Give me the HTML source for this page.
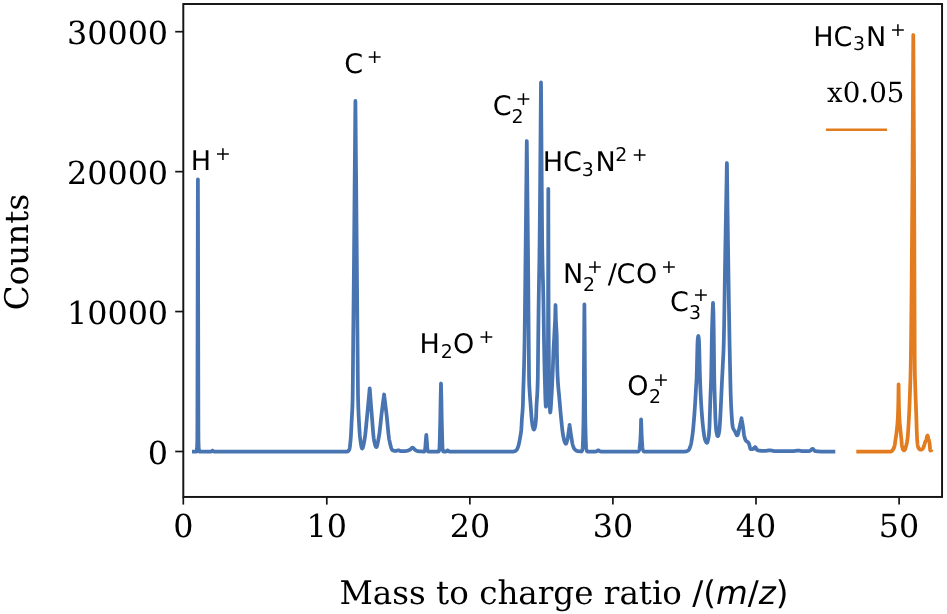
<!DOCTYPE html>
<html lang="en">
<head>
<meta charset="utf-8">
<title>Mass spectrum</title>
<style>
html,body{margin:0;padding:0;background:#fff;}
body{width:947px;height:614px;overflow:hidden;}
svg{display:block;}
text{text-rendering:geometricPrecision;}
</style>
</head>
<body>
<svg width="947" height="614" viewBox="0 0 947 614">
<rect width="947" height="614" fill="#fff"/>
<polyline fill="none" stroke="#4874b1" stroke-width="3.75" stroke-linejoin="round" stroke-linecap="butt" points="192.00,451.50 196.70,451.50 196.80,451.21 197.00,448.77 197.20,443.65 197.30,440.00 197.40,415.70 197.60,310.63 197.63,296.62 197.80,205.52 197.90,179.30 198.00,209.87 198.15,296.62 198.20,324.78 198.40,431.47 198.45,440.00 198.60,444.97 198.80,449.28 199.00,451.27 199.10,451.50 211.30,451.50 211.40,451.48 211.60,451.36 211.80,451.16 212.00,450.94 212.20,450.74 212.40,450.62 212.50,450.60 212.60,450.62 212.80,450.74 213.00,450.94 213.20,451.16 213.40,451.36 213.60,451.48 213.70,451.50 347.50,451.50 347.60,451.49 347.80,451.44 348.00,451.32 348.20,451.16 348.40,450.95 348.60,450.70 348.80,450.40 349.00,450.07 349.20,449.70 349.30,449.50 349.40,449.24 349.60,448.42 349.80,447.23 350.00,445.74 350.20,444.00 350.40,442.06 350.60,440.00 350.60,440.00 350.80,437.44 351.00,434.14 351.20,430.32 351.40,426.21 351.60,422.04 351.70,420.00 351.80,418.10 352.00,414.67 352.20,411.05 352.40,406.42 352.60,400.00 352.60,400.00 352.80,385.51 353.00,362.76 353.20,340.00 353.20,340.00 353.40,320.32 353.60,300.77 353.80,280.58 353.90,270.00 354.00,258.89 354.20,235.40 354.40,211.55 354.50,200.00 354.60,188.77 354.80,166.73 355.00,144.90 355.10,133.93 355.20,120.48 355.40,100.90 355.40,100.90 355.60,120.48 355.70,133.93 355.80,144.90 356.00,166.73 356.20,188.77 356.30,200.00 356.40,211.43 356.60,234.75 356.80,258.29 356.90,270.00 357.00,281.79 357.20,305.67 357.40,328.96 357.50,340.00 357.60,351.35 357.80,374.99 358.00,394.19 358.10,400.00 358.20,403.80 358.40,409.79 358.60,414.30 358.80,418.11 358.90,420.00 359.00,421.93 359.20,425.68 359.40,429.20 359.60,432.34 359.80,434.99 360.00,437.00 360.00,437.00 360.20,438.63 360.40,440.22 360.60,441.72 360.80,443.13 361.00,444.43 361.20,445.58 361.40,446.57 361.60,447.38 361.80,447.99 362.00,448.37 362.20,448.50 362.20,448.50 362.40,448.40 362.60,448.12 362.80,447.67 363.00,447.08 363.20,446.36 363.40,445.54 363.60,444.63 363.80,443.65 364.00,442.63 364.20,441.58 364.40,440.52 364.50,440.00 364.60,439.45 364.80,438.20 365.00,436.76 365.20,435.16 365.40,433.41 365.60,431.55 365.80,429.59 366.00,427.55 366.20,425.46 366.40,423.34 366.60,421.22 366.80,419.10 367.00,417.02 367.20,415.00 367.20,415.00 367.40,412.99 367.60,410.94 367.80,408.84 368.00,406.72 368.20,404.57 368.40,402.41 368.60,400.24 368.80,398.06 369.00,395.89 369.20,393.73 369.40,391.59 369.40,391.59 369.60,388.99 369.70,388.40 369.80,389.10 370.00,392.20 370.00,392.20 370.20,394.75 370.40,397.31 370.60,399.89 370.80,402.46 371.00,405.03 371.20,407.58 371.40,410.09 371.60,412.57 371.80,415.00 371.80,415.00 372.00,417.49 372.20,420.10 372.40,422.79 372.60,425.50 372.80,428.16 373.00,430.72 373.20,433.13 373.40,435.32 373.60,437.23 373.80,438.81 374.00,440.00 374.00,440.00 374.20,440.96 374.40,441.90 374.60,442.80 374.80,443.64 375.00,444.42 375.20,445.12 375.40,445.73 375.60,446.25 375.80,446.65 376.00,446.94 376.20,447.08 376.30,447.10 376.40,447.08 376.60,446.88 376.80,446.52 377.00,445.99 377.20,445.33 377.40,444.55 377.60,443.66 377.80,442.68 378.00,441.64 378.20,440.54 378.40,439.41 378.60,438.27 378.80,437.12 379.00,436.00 379.00,436.00 379.20,434.80 379.40,433.43 379.60,431.92 379.80,430.29 380.00,428.56 380.20,426.74 380.40,424.87 380.60,422.96 380.80,421.04 381.00,419.13 381.20,417.25 381.40,415.42 381.60,413.66 381.80,412.00 381.80,412.00 382.00,410.41 382.20,408.85 382.40,407.31 382.60,405.79 382.80,404.28 383.00,402.79 383.20,401.29 383.40,399.80 383.60,398.30 383.80,396.78 383.80,396.78 384.00,394.92 384.10,394.50 384.20,394.96 384.40,396.96 384.40,396.96 384.60,398.59 384.80,400.21 385.00,401.82 385.20,403.43 385.40,405.04 385.60,406.66 385.80,408.28 386.00,409.93 386.20,411.59 386.40,413.28 386.60,415.00 386.60,415.00 386.80,416.81 387.00,418.76 387.20,420.81 387.40,422.92 387.60,425.07 387.80,427.22 388.00,429.33 388.20,431.38 388.40,433.33 388.60,435.15 388.80,436.80 389.00,438.26 389.20,439.48 389.30,440.00 389.40,440.48 389.60,441.42 389.80,442.35 390.00,443.25 390.20,444.11 390.40,444.94 390.60,445.73 390.80,446.48 391.00,447.17 391.20,447.80 391.40,448.38 391.60,448.88 391.80,449.32 392.00,449.67 392.20,449.95 392.40,450.14 392.50,450.20 392.60,450.25 392.80,450.34 393.00,450.43 393.20,450.51 393.40,450.59 393.60,450.66 393.80,450.72 394.00,450.78 394.20,450.84 394.40,450.88 394.60,450.92 394.80,450.95 395.00,450.97 395.20,450.99 395.40,451.00 395.50,451.00 395.60,451.00 395.80,450.98 396.00,450.94 396.20,450.90 396.40,450.84 396.60,450.77 396.80,450.70 397.00,450.63 397.20,450.56 397.40,450.49 397.60,450.43 397.80,450.38 398.00,450.34 398.20,450.31 398.40,450.30 398.40,450.30 398.60,450.32 398.80,450.36 399.00,450.42 399.20,450.50 399.40,450.60 399.60,450.70 399.80,450.80 400.00,450.90 400.20,451.00 400.40,451.08 400.60,451.14 400.80,451.18 401.00,451.20 401.00,451.20 401.20,451.20 401.40,451.20 401.60,451.20 401.80,451.19 402.00,451.19 402.20,451.19 402.40,451.18 402.60,451.18 402.80,451.17 403.00,451.16 403.20,451.16 403.40,451.15 403.60,451.14 403.80,451.13 404.00,451.12 404.20,451.11 404.40,451.10 404.60,451.09 404.80,451.08 405.00,451.07 405.20,451.06 405.40,451.04 405.60,451.03 405.80,451.01 406.00,451.00 406.00,451.00 406.20,450.98 406.40,450.96 406.60,450.93 406.80,450.89 407.00,450.85 407.20,450.80 407.40,450.74 407.60,450.68 407.80,450.62 408.00,450.55 408.20,450.48 408.40,450.40 408.60,450.33 408.80,450.24 409.00,450.16 409.20,450.07 409.40,449.98 409.60,449.89 409.80,449.79 410.00,449.70 410.00,449.70 410.20,449.58 410.40,449.43 410.60,449.24 410.80,449.04 411.00,448.82 411.20,448.60 411.40,448.39 411.60,448.19 411.80,448.02 412.00,447.87 412.20,447.76 412.40,447.71 412.50,447.70 412.60,447.71 412.80,447.76 413.00,447.87 413.20,448.02 413.40,448.20 413.60,448.40 413.80,448.62 414.00,448.84 414.20,449.07 414.40,449.29 414.60,449.49 414.80,449.66 415.00,449.80 415.00,449.80 415.20,449.92 415.40,450.04 415.60,450.17 415.80,450.29 416.00,450.41 416.20,450.52 416.40,450.63 416.60,450.74 416.80,450.83 417.00,450.92 417.20,451.00 417.40,451.07 417.60,451.13 417.80,451.17 418.00,451.20 418.00,451.20 418.20,451.22 418.40,451.24 418.60,451.26 418.80,451.28 419.00,451.30 419.20,451.32 419.40,451.34 419.60,451.36 419.80,451.37 420.00,451.39 420.20,451.40 420.40,451.41 420.60,451.43 420.80,451.44 421.00,451.45 421.20,451.46 421.40,451.47 421.60,451.47 421.80,451.48 422.00,451.49 422.20,451.49 422.40,451.50 422.60,451.50 422.80,451.50 423.00,451.50 424.40,451.50 424.60,451.30 424.80,450.75 425.00,449.96 425.10,449.50 425.20,448.78 425.40,446.30 425.60,443.33 425.70,442.00 425.80,440.80 426.00,438.45 426.03,438.09 426.20,435.61 426.30,434.90 426.40,435.61 426.57,438.09 426.60,438.45 426.80,440.80 426.90,442.00 427.00,443.33 427.20,446.30 427.40,448.78 427.50,449.50 427.60,449.96 427.80,450.75 428.00,451.30 428.20,451.50 438.60,451.50 438.80,451.33 439.00,450.84 439.20,450.06 439.40,449.00 439.40,449.00 439.60,445.19 439.80,437.94 440.00,430.00 440.00,430.00 440.20,422.02 440.35,415.00 440.40,412.21 440.60,400.00 440.60,400.00 440.80,391.74 440.82,390.93 441.00,383.50 441.00,383.50 441.18,390.93 441.20,391.74 441.40,400.00 441.40,400.00 441.60,412.21 441.65,415.00 441.80,422.02 442.00,430.00 442.00,430.00 442.20,437.94 442.40,445.19 442.60,449.00 442.60,449.00 442.80,450.06 443.00,450.84 443.20,451.33 443.40,451.50 446.00,451.50 446.20,451.45 446.40,451.33 446.60,451.15 446.80,450.95 447.00,450.75 447.20,450.57 447.40,450.45 447.60,450.40 447.60,450.40 447.80,450.45 448.00,450.57 448.20,450.75 448.40,450.95 448.60,451.15 448.80,451.33 449.00,451.45 449.20,451.50 513.50,451.50 513.60,451.50 513.80,451.48 514.00,451.45 514.20,451.40 514.40,451.34 514.60,451.27 514.80,451.19 515.00,451.10 515.20,451.00 515.40,450.90 515.60,450.80 515.60,450.80 515.80,450.68 516.00,450.52 516.20,450.33 516.40,450.11 516.60,449.86 516.80,449.59 517.00,449.30 517.00,449.30 517.20,448.96 517.40,448.55 517.60,448.07 517.80,447.55 518.00,447.00 518.00,447.00 518.20,446.40 518.40,445.75 518.60,445.03 518.80,444.25 519.00,443.43 519.10,443.00 519.20,442.55 519.40,441.57 519.60,440.50 519.80,439.37 520.00,438.20 520.00,438.20 520.20,437.07 520.40,435.98 520.60,434.85 520.80,433.61 521.00,432.18 521.20,430.48 521.30,429.50 521.40,428.23 521.60,424.64 521.80,420.71 521.90,419.00 522.00,417.56 522.20,415.15 522.40,412.93 522.60,410.40 522.80,407.03 522.85,406.00 523.00,401.06 523.20,393.00 523.20,393.00 523.40,386.95 523.60,381.20 523.70,378.00 523.80,374.59 524.00,367.50 524.20,359.51 524.40,350.00 524.40,350.00 524.60,337.73 524.80,322.49 525.00,305.20 525.20,286.75 525.40,268.05 525.60,250.00 525.60,250.00 525.80,232.28 526.00,214.13 526.20,195.75 526.40,177.37 526.50,168.25 526.60,157.15 526.80,141.00 526.80,141.00 527.00,157.15 527.10,168.25 527.20,177.19 527.40,194.52 527.60,211.85 527.80,230.05 528.00,250.00 528.00,250.00 528.20,273.40 528.40,299.63 528.60,326.04 528.80,350.00 528.80,350.00 529.00,373.04 529.10,380.00 529.20,383.21 529.40,387.68 529.60,390.75 529.75,393.00 529.80,393.81 530.00,396.81 530.20,399.54 530.40,402.12 530.60,404.69 530.70,406.00 530.80,407.36 531.00,410.17 531.20,412.98 531.40,415.63 531.60,417.99 531.70,419.00 531.80,419.95 532.00,421.77 532.20,423.45 532.40,424.91 532.60,426.06 532.70,426.50 532.80,426.89 533.00,427.64 533.20,428.33 533.40,428.91 533.60,429.34 533.80,429.57 533.90,429.60 534.00,429.57 534.20,429.34 534.40,428.93 534.60,428.35 534.80,427.67 535.00,426.90 535.10,426.50 535.20,426.05 535.40,424.90 535.60,423.37 535.80,421.41 536.00,419.00 536.00,419.00 536.20,414.45 536.40,408.44 536.50,406.00 536.60,404.12 536.80,401.02 537.00,398.21 537.20,394.99 537.30,393.00 537.40,390.82 537.60,385.66 537.80,378.00 537.80,378.00 538.00,360.14 538.10,350.00 538.20,341.14 538.40,323.75 538.60,307.47 538.70,300.00 538.80,293.21 539.00,281.28 539.20,269.98 539.40,257.39 539.50,250.00 539.60,241.60 539.80,222.06 540.00,199.76 540.20,175.80 540.40,151.30 540.60,127.35 540.70,115.92 540.80,102.26 541.00,82.40 541.00,82.40 541.20,105.32 541.30,121.08 541.40,134.52 541.60,163.61 541.80,193.19 542.00,220.32 542.20,242.06 542.30,250.00 542.40,256.31 542.60,266.60 542.80,274.85 543.00,282.32 543.20,290.28 543.40,300.00 543.40,300.00 543.60,312.72 543.80,326.98 544.00,340.00 544.00,340.00 544.20,351.34 544.40,361.96 544.60,371.15 544.70,375.00 544.80,378.61 545.00,385.95 545.20,392.97 545.40,399.09 545.60,403.75 545.80,406.35 545.90,406.70 546.00,406.53 546.20,405.30 546.40,403.22 546.60,400.66 546.80,398.00 546.80,398.00 547.00,395.44 547.20,392.36 547.40,387.95 547.50,385.00 547.60,380.27 547.80,362.56 547.90,350.00 548.00,330.53 548.10,300.00 548.20,244.56 548.21,238.84 548.30,188.80 548.40,232.73 548.41,238.84 548.55,300.00 548.60,313.18 548.80,350.00 548.80,350.00 549.00,376.77 549.10,385.00 549.20,389.93 549.40,396.98 549.60,402.00 549.60,402.00 549.80,406.80 550.00,410.81 550.20,412.50 550.20,412.50 550.40,411.84 550.60,410.08 550.80,407.50 551.00,404.43 551.20,401.16 551.40,398.00 551.40,398.00 551.60,394.80 551.80,391.25 552.00,387.38 552.20,383.24 552.40,378.88 552.60,374.33 552.70,372.00 552.80,369.50 553.00,363.82 553.20,357.87 553.40,352.36 553.50,350.00 553.60,347.94 553.80,344.30 554.00,340.84 554.10,339.00 554.20,337.04 554.40,332.97 554.60,329.00 554.60,329.00 554.80,325.68 555.00,322.37 555.15,319.00 555.20,317.37 555.34,311.30 555.40,308.47 555.50,305.00 555.60,308.47 555.66,311.30 555.80,317.37 555.85,319.00 556.00,322.30 556.20,325.51 556.40,329.00 556.40,329.00 556.60,332.73 556.80,339.00 556.80,339.00 556.90,350.00 557.00,355.85 557.20,364.94 557.40,371.35 557.60,376.00 557.60,376.00 557.80,379.78 558.00,383.01 558.20,385.79 558.40,388.24 558.60,390.44 558.80,392.51 559.00,394.54 559.20,396.63 559.40,398.90 559.40,398.90 559.60,401.28 559.80,403.65 560.00,405.99 560.20,408.30 560.40,410.57 560.60,412.78 560.80,414.92 561.00,417.00 561.10,418.00 561.20,419.00 561.40,421.01 561.60,423.01 561.80,424.98 562.00,426.89 562.20,428.71 562.40,430.42 562.60,431.98 562.80,433.37 562.90,434.00 563.00,434.59 563.20,435.74 563.40,436.84 563.60,437.86 563.80,438.80 564.00,439.65 564.20,440.40 564.40,441.03 564.50,441.30 564.60,441.56 564.80,442.07 565.00,442.55 565.20,442.99 565.40,443.36 565.60,443.63 565.80,443.78 565.90,443.80 566.00,443.77 566.20,443.55 566.40,443.15 566.60,442.59 566.80,441.90 567.00,441.11 567.20,440.25 567.40,439.35 567.60,438.45 567.70,438.00 567.80,437.53 568.00,436.42 568.20,435.14 568.40,433.72 568.60,432.22 568.80,430.68 569.00,429.15 569.20,427.67 569.30,426.97 569.40,426.13 569.60,424.90 569.60,424.90 569.80,426.17 569.90,427.04 570.00,427.75 570.20,429.22 570.40,430.71 570.60,432.19 570.80,433.65 571.00,435.05 571.20,436.38 571.30,437.00 571.40,437.61 571.60,438.84 571.80,440.06 572.00,441.23 572.20,442.33 572.40,443.35 572.60,444.25 572.80,445.00 572.80,445.00 573.00,445.65 573.20,446.27 573.40,446.83 573.60,447.34 573.80,447.80 574.00,448.21 574.20,448.55 574.30,448.70 574.40,448.84 574.60,449.10 574.80,449.35 575.00,449.57 575.20,449.78 575.40,449.98 575.60,450.15 575.80,450.30 576.00,450.44 576.20,450.55 576.30,450.60 576.40,450.65 576.60,450.73 576.80,450.82 577.00,450.89 577.20,450.96 577.40,451.02 577.60,451.08 577.80,451.13 578.00,451.17 578.20,451.20 578.20,451.20 578.40,451.23 578.60,451.26 578.80,451.29 579.00,451.31 579.20,451.34 579.40,451.36 579.60,451.39 579.80,451.41 580.00,451.43 580.20,451.44 580.40,451.46 580.60,451.47 580.80,451.48 581.00,451.49 581.20,451.50 581.40,451.50 581.50,451.50 581.60,451.47 581.80,451.21 582.00,450.72 582.20,450.01 582.40,449.10 582.60,448.00 582.60,448.00 582.80,445.55 583.00,440.75 583.20,433.83 583.40,425.03 583.50,420.00 583.60,412.45 583.80,387.16 584.00,356.78 584.10,342.87 584.20,327.15 584.40,304.30 584.40,304.30 584.60,327.15 584.70,342.87 584.80,356.78 585.00,387.16 585.20,412.45 585.30,420.00 585.40,425.03 585.60,433.83 585.80,440.75 586.00,445.55 586.20,448.00 586.20,448.00 586.40,449.10 586.60,450.01 586.80,450.72 587.00,451.21 587.20,451.47 587.30,451.50 596.00,451.50 596.20,451.47 596.40,451.40 596.60,451.30 596.80,451.17 597.00,451.02 597.20,450.86 597.40,450.71 597.60,450.57 597.80,450.45 598.00,450.36 598.20,450.31 598.30,450.30 598.40,450.31 598.60,450.36 598.80,450.46 599.00,450.59 599.20,450.74 599.40,450.90 599.60,451.06 599.80,451.21 600.00,451.34 600.20,451.44 600.40,451.49 600.50,451.50 638.30,451.50 638.40,451.47 638.60,451.27 638.80,450.90 639.00,450.41 639.20,449.82 639.30,449.50 639.40,449.10 639.60,447.93 639.80,446.35 640.00,444.49 640.05,444.00 640.20,442.35 640.40,439.56 640.60,436.00 640.60,436.00 640.80,430.63 640.85,429.00 640.99,423.66 641.00,423.13 641.10,419.30 641.20,421.70 641.26,423.66 641.40,427.61 641.45,429.00 641.60,433.40 641.70,436.00 641.80,438.17 642.00,441.95 642.15,444.00 642.20,444.53 642.40,446.44 642.60,447.99 642.80,449.11 642.90,449.50 643.00,449.82 643.20,450.41 643.40,450.90 643.60,451.27 643.80,451.47 643.90,451.50 685.30,451.50 685.40,451.50 685.60,451.49 685.80,451.46 686.00,451.43 686.20,451.38 686.40,451.33 686.60,451.27 686.80,451.19 687.00,451.11 687.20,451.02 687.40,450.92 687.60,450.82 687.80,450.71 688.00,450.59 688.20,450.46 688.30,450.40 688.40,450.33 688.60,450.13 688.80,449.88 689.00,449.56 689.20,449.19 689.40,448.78 689.60,448.32 689.80,447.82 690.00,447.28 690.20,446.71 690.40,446.12 690.60,445.50 690.60,445.50 690.80,444.81 691.00,443.98 691.20,443.05 691.40,442.00 691.60,440.86 691.80,439.63 692.00,438.32 692.20,436.94 692.40,435.49 692.60,434.00 692.60,434.00 692.80,432.37 693.00,430.53 693.20,428.52 693.40,426.35 693.60,424.06 693.80,421.68 694.00,419.24 694.10,418.00 694.20,416.74 694.40,414.09 694.60,411.30 694.80,408.36 695.00,405.31 695.20,402.15 695.40,398.90 695.40,398.90 695.60,395.38 695.80,391.64 696.00,388.00 696.00,388.00 696.20,384.89 696.40,381.89 696.60,378.00 696.60,378.00 696.80,371.59 697.00,363.17 697.20,355.00 697.20,355.00 697.40,346.81 697.60,341.00 697.60,341.00 697.80,338.72 698.00,337.04 698.20,336.12 698.30,336.00 698.40,336.12 698.60,337.04 698.80,338.72 699.00,341.00 699.00,341.00 699.20,346.81 699.40,355.00 699.40,355.00 699.60,362.88 699.80,371.00 700.00,378.00 700.00,378.00 700.20,383.61 700.40,388.56 700.60,392.97 700.70,395.00 700.80,396.95 701.00,400.66 701.20,404.11 701.40,407.31 701.60,410.27 701.80,413.00 701.80,413.00 702.00,415.56 702.20,418.02 702.40,420.37 702.60,422.59 702.80,424.67 703.00,426.61 703.20,428.39 703.40,430.00 703.40,430.00 703.60,431.51 703.80,432.99 704.00,434.41 704.20,435.73 704.40,436.93 704.60,437.97 704.80,438.84 705.00,439.50 705.00,439.50 705.20,440.04 705.40,440.56 705.60,441.05 705.80,441.49 706.00,441.89 706.20,442.23 706.40,442.50 706.60,442.69 706.80,442.79 706.90,442.80 707.00,442.78 707.20,442.59 707.40,442.22 707.60,441.71 707.80,441.06 708.00,440.29 708.20,439.43 708.40,438.49 708.50,438.00 708.60,437.43 708.80,435.86 709.00,433.74 709.20,431.11 709.40,428.00 709.40,428.00 709.60,423.18 709.80,416.59 710.00,410.00 710.00,410.00 710.20,403.87 710.40,397.83 710.50,395.00 710.60,392.46 710.80,387.97 711.00,383.07 711.10,380.00 711.20,376.01 711.40,365.10 711.60,352.24 711.80,339.77 712.00,330.00 712.00,330.00 712.20,323.06 712.40,317.22 712.60,312.00 712.60,312.00 712.80,307.45 712.82,307.00 713.00,302.90 713.00,302.90 713.18,307.00 713.20,307.43 713.40,312.00 713.40,312.00 713.60,323.00 713.70,330.00 713.80,337.76 714.00,356.32 714.20,373.71 714.30,380.00 714.40,384.71 714.60,392.34 714.80,398.79 714.90,402.00 715.00,405.36 715.20,412.04 715.40,417.79 715.50,420.00 715.60,421.88 715.80,425.32 716.00,428.18 716.20,430.29 716.30,431.00 716.40,431.58 716.60,432.67 716.80,433.66 717.00,434.51 717.20,435.22 717.40,435.75 717.60,436.08 717.80,436.20 717.80,436.20 718.00,436.08 718.20,435.75 718.40,435.21 718.60,434.51 718.80,433.65 719.00,432.67 719.20,431.58 719.30,431.00 719.40,430.26 719.60,428.00 719.80,425.09 720.00,422.00 720.00,422.00 720.20,418.72 720.40,415.05 720.60,411.12 720.80,407.05 720.90,405.00 721.00,402.91 721.20,398.50 721.40,393.92 721.60,389.37 721.80,385.00 721.80,385.00 722.00,380.88 722.20,376.91 722.40,372.99 722.60,369.05 722.80,365.00 722.80,365.00 723.00,361.13 723.20,357.38 723.40,353.19 723.60,348.00 723.60,348.00 723.80,340.83 724.00,331.42 724.20,320.26 724.40,307.86 724.60,294.71 724.80,281.32 725.00,268.17 725.20,255.77 725.30,250.00 725.40,244.43 725.60,233.42 725.80,222.53 726.00,211.71 726.20,200.93 726.40,190.15 726.60,179.31 726.60,179.31 726.80,166.02 726.90,163.00 727.00,167.03 727.20,184.75 727.20,184.75 727.40,199.42 727.60,214.23 727.80,228.90 728.00,243.14 728.10,250.00 728.20,256.77 728.40,270.35 728.60,283.85 728.80,297.11 729.00,310.00 729.20,322.36 729.40,334.05 729.60,344.92 729.70,350.00 729.80,354.95 730.00,364.73 730.20,374.13 730.40,382.87 730.60,390.66 730.80,397.25 730.90,400.00 731.00,402.46 731.20,406.86 731.40,410.68 731.60,414.02 731.80,417.00 731.80,417.00 732.00,419.88 732.20,422.61 732.40,424.83 732.60,426.20 732.60,426.20 732.80,426.98 733.00,427.65 733.20,428.22 733.40,428.72 733.60,429.15 733.80,429.53 734.00,429.87 734.20,430.19 734.40,430.49 734.60,430.81 734.80,431.14 735.00,431.50 735.00,431.50 735.20,431.90 735.40,432.34 735.60,432.79 735.80,433.24 736.00,433.68 736.20,434.10 736.40,434.49 736.60,434.82 736.80,435.09 737.00,435.28 737.20,435.39 737.30,435.40 737.40,435.37 737.60,435.14 737.80,434.71 738.00,434.11 738.20,433.37 738.40,432.54 738.60,431.63 738.80,430.70 739.00,429.75 739.20,428.85 739.40,428.00 739.40,428.00 739.60,427.17 739.80,426.30 740.00,425.39 740.20,424.45 740.40,423.50 740.60,422.54 740.80,421.58 741.00,420.62 741.20,419.69 741.20,419.69 741.40,418.56 741.50,418.30 741.60,418.62 741.80,420.04 741.80,420.04 742.00,421.18 742.20,422.30 742.40,423.42 742.60,424.57 742.80,425.75 743.00,427.00 743.00,427.00 743.20,428.42 743.40,430.01 743.60,431.65 743.80,433.23 744.00,434.62 744.20,435.70 744.20,435.70 744.40,436.56 744.60,437.35 744.80,438.07 745.00,438.71 745.20,439.27 745.40,439.73 745.60,440.10 745.60,440.10 745.80,440.39 746.00,440.65 746.20,440.87 746.40,441.06 746.60,441.23 746.80,441.38 747.00,441.52 747.20,441.66 747.40,441.80 747.60,441.94 747.80,442.10 748.00,442.28 748.20,442.49 748.40,442.73 748.60,443.00 748.60,443.00 748.80,443.39 749.00,443.94 749.20,444.60 749.40,445.34 749.60,446.12 749.80,446.89 750.00,447.61 750.20,448.24 750.40,448.75 750.60,449.08 750.80,449.20 750.80,449.20 751.00,449.20 751.20,449.19 751.40,449.18 751.60,449.17 751.80,449.15 752.00,449.14 752.20,449.11 752.40,449.09 752.60,449.06 752.80,449.03 753.00,449.00 753.00,449.00 753.20,448.93 753.40,448.79 753.60,448.60 753.80,448.38 754.00,448.13 754.20,447.88 754.40,447.64 754.60,447.43 754.80,447.26 755.00,447.14 755.20,447.10 755.20,447.10 755.40,447.18 755.60,447.40 755.80,447.71 756.00,448.10 756.20,448.52 756.40,448.93 756.60,449.30 756.80,449.61 757.00,449.80 757.00,449.80 757.20,449.92 757.40,450.04 757.60,450.15 757.80,450.24 758.00,450.33 758.20,450.41 758.40,450.47 758.60,450.53 758.80,450.57 759.00,450.60 759.00,450.60 759.20,450.62 759.40,450.64 759.60,450.67 759.80,450.69 760.00,450.71 760.20,450.72 760.40,450.74 760.60,450.76 760.80,450.77 761.00,450.79 761.20,450.80 761.40,450.82 761.60,450.83 761.80,450.84 762.00,450.85 762.20,450.86 762.40,450.87 762.60,450.88 762.80,450.88 763.00,450.89 763.20,450.89 763.40,450.90 763.60,450.90 763.80,450.90 764.00,450.90 764.00,450.90 764.20,450.90 764.40,450.89 764.60,450.89 764.80,450.87 765.00,450.86 765.20,450.84 765.40,450.83 765.60,450.81 765.80,450.79 766.00,450.76 766.20,450.74 766.40,450.71 766.60,450.69 766.80,450.66 767.00,450.64 767.20,450.61 767.40,450.59 767.60,450.56 767.80,450.54 768.00,450.51 768.20,450.49 768.40,450.47 768.60,450.46 768.80,450.44 769.00,450.43 769.20,450.41 769.40,450.41 769.60,450.40 769.80,450.40 769.80,450.40 770.00,450.40 770.20,450.41 770.40,450.42 770.60,450.44 770.80,450.47 771.00,450.49 771.20,450.52 771.40,450.55 771.60,450.59 771.80,450.62 772.00,450.66 772.20,450.70 772.40,450.74 772.60,450.78 772.80,450.82 773.00,450.86 773.20,450.90 773.40,450.93 773.60,450.97 773.80,451.00 774.00,451.02 774.20,451.05 774.40,451.07 774.60,451.08 774.80,451.09 775.00,451.10 775.00,451.10 775.20,451.10 775.40,451.11 775.60,451.11 775.80,451.11 776.00,451.11 776.20,451.12 776.40,451.12 776.60,451.12 776.80,451.12 777.00,451.12 777.20,451.13 777.40,451.13 777.60,451.13 777.80,451.13 778.00,451.14 778.20,451.14 778.40,451.14 778.60,451.14 778.80,451.14 779.00,451.15 779.20,451.15 779.40,451.15 779.60,451.15 779.80,451.15 780.00,451.15 780.20,451.16 780.40,451.16 780.60,451.16 780.80,451.16 781.00,451.16 781.20,451.16 781.40,451.17 781.60,451.17 781.80,451.17 782.00,451.17 782.20,451.17 782.40,451.17 782.60,451.17 782.80,451.17 783.00,451.18 783.20,451.18 783.40,451.18 783.60,451.18 783.80,451.18 784.00,451.18 784.20,451.18 784.40,451.18 784.60,451.18 784.80,451.19 785.00,451.19 785.20,451.19 785.40,451.19 785.60,451.19 785.80,451.19 786.00,451.19 786.20,451.19 786.40,451.19 786.60,451.19 786.80,451.19 787.00,451.19 787.20,451.19 787.40,451.19 787.60,451.19 787.80,451.20 788.00,451.20 788.20,451.20 788.40,451.20 788.60,451.20 788.80,451.20 789.00,451.20 789.20,451.20 789.40,451.20 789.60,451.20 789.80,451.20 790.00,451.20 790.20,451.20 790.40,451.20 790.60,451.20 790.80,451.20 791.00,451.20 791.20,451.20 791.40,451.20 791.60,451.20 791.80,451.20 792.00,451.20 792.00,451.20 792.20,451.20 792.40,451.19 792.60,451.19 792.80,451.17 793.00,451.16 793.20,451.14 793.40,451.13 793.60,451.11 793.80,451.08 794.00,451.06 794.20,451.04 794.40,451.01 794.60,450.98 794.80,450.96 795.00,450.93 795.20,450.90 795.40,450.87 795.60,450.84 795.80,450.82 796.00,450.79 796.20,450.76 796.40,450.74 796.60,450.72 796.80,450.69 797.00,450.67 797.20,450.66 797.40,450.64 797.60,450.63 797.80,450.61 798.00,450.61 798.20,450.60 798.40,450.60 798.40,450.60 798.60,450.60 798.80,450.61 799.00,450.63 799.20,450.65 799.40,450.67 799.60,450.70 799.80,450.73 800.00,450.77 800.20,450.80 800.40,450.84 800.60,450.88 800.80,450.92 801.00,450.96 801.20,451.00 801.40,451.03 801.60,451.07 801.80,451.10 802.00,451.13 802.20,451.15 802.40,451.17 802.60,451.19 802.80,451.20 803.00,451.20 803.00,451.20 803.20,451.20 803.40,451.20 803.60,451.20 803.80,451.20 804.00,451.20 804.20,451.19 804.40,451.19 804.60,451.19 804.80,451.19 805.00,451.18 805.20,451.18 805.40,451.18 805.60,451.17 805.80,451.17 806.00,451.16 806.20,451.16 806.40,451.15 806.60,451.14 806.80,451.14 807.00,451.13 807.20,451.12 807.40,451.11 807.60,451.10 807.80,451.10 808.00,451.09 808.20,451.08 808.40,451.07 808.60,451.05 808.80,451.04 809.00,451.03 809.20,451.02 809.40,451.01 809.50,451.00 809.60,450.99 809.80,450.93 810.00,450.83 810.20,450.70 810.40,450.54 810.60,450.36 810.80,450.17 811.00,449.97 811.20,449.78 811.40,449.58 811.60,449.40 811.80,449.24 812.00,449.10 812.20,448.99 812.40,448.92 812.60,448.90 812.60,448.90 812.80,448.94 813.00,449.04 813.20,449.21 813.40,449.41 813.60,449.64 813.80,449.89 814.00,450.14 814.20,450.39 814.40,450.61 814.60,450.79 814.80,450.93 815.00,451.00 815.00,451.00 815.20,451.04 815.40,451.08 815.60,451.11 815.80,451.15 816.00,451.18 816.20,451.21 816.40,451.24 816.60,451.27 816.80,451.29 817.00,451.32 817.20,451.34 817.40,451.36 817.60,451.38 817.80,451.40 818.00,451.42 818.20,451.43 818.40,451.45 818.60,451.46 818.80,451.47 819.00,451.48 819.20,451.49 819.40,451.49 819.60,451.50 819.80,451.50 820.00,451.50 835.30,451.50"/>
<polyline fill="none" stroke="#e27c1f" stroke-width="3.75" stroke-linejoin="round" stroke-linecap="butt" points="856.30,451.50 890.80,451.50 890.90,451.49 891.10,451.45 891.30,451.37 891.50,451.25 891.70,451.11 891.90,450.95 892.10,450.78 892.30,450.60 892.30,450.60 892.50,450.37 892.70,450.07 892.90,449.72 893.10,449.35 893.30,449.00 893.30,449.00 893.50,448.69 893.70,448.39 893.90,448.06 894.10,447.65 894.20,447.40 894.30,447.09 894.50,446.23 894.70,445.12 894.90,443.84 895.10,442.45 895.30,441.05 895.50,439.70 895.50,439.70 895.70,438.42 895.90,437.13 896.10,435.78 896.30,434.34 896.50,432.76 896.60,431.90 896.70,431.02 896.90,429.26 897.10,427.38 897.30,425.28 897.50,422.83 897.70,419.91 897.90,416.40 897.90,416.40 898.10,411.16 898.30,403.33 898.35,401.00 898.49,391.81 898.50,390.90 898.60,384.30 898.70,390.90 898.71,391.81 898.85,401.00 898.90,403.33 899.10,411.16 899.30,416.40 899.30,416.40 899.50,419.86 899.70,422.67 899.90,425.01 900.10,427.04 900.30,428.94 900.50,430.87 900.60,431.90 900.70,432.94 900.90,434.93 901.10,436.84 901.30,438.74 901.40,439.70 901.50,440.73 901.70,442.96 901.90,445.03 902.10,446.50 902.10,446.50 902.30,447.45 902.50,448.25 902.70,448.89 902.90,449.34 903.00,449.50 903.10,449.63 903.30,449.86 903.50,450.06 903.70,450.21 903.90,450.29 904.00,450.30 904.10,450.29 904.30,450.21 904.50,450.06 904.70,449.86 904.90,449.63 905.00,449.50 905.10,449.34 905.30,448.86 905.50,448.23 905.70,447.51 905.90,446.80 905.90,446.80 906.10,446.08 906.30,445.30 906.50,444.45 906.60,444.00 906.70,443.55 906.90,442.63 907.10,441.61 907.30,440.41 907.40,439.70 907.50,438.89 907.70,436.93 907.90,434.56 908.10,431.82 908.30,428.77 908.50,425.46 908.70,421.94 908.90,418.27 909.00,416.40 909.10,414.44 909.30,410.09 909.50,405.23 909.70,399.96 909.90,394.35 910.10,388.50 910.20,385.50 910.30,382.54 910.50,376.16 910.65,370.00 910.70,367.52 910.90,355.20 911.10,339.43 911.30,320.70 911.50,299.51 911.70,276.36 911.90,251.72 912.10,226.11 912.30,200.00 912.30,200.00 912.50,170.48 912.70,136.50 912.90,101.42 913.00,84.50 913.10,64.33 913.30,35.00 913.30,35.00 913.50,67.59 913.60,90.00 913.70,107.79 913.90,142.05 914.10,178.94 914.20,200.00 914.30,227.15 914.50,296.83 914.70,355.99 914.80,370.00 914.90,375.45 915.10,382.42 915.20,385.50 915.30,388.73 915.50,394.68 915.70,400.14 915.90,405.40 916.10,410.73 916.30,416.40 916.30,416.40 916.50,422.82 916.70,429.20 916.80,431.90 916.90,434.37 917.10,438.95 917.30,442.00 917.30,442.00 917.50,443.68 917.70,445.05 917.90,446.12 918.10,446.93 918.30,447.50 918.30,447.50 918.50,447.93 918.70,448.30 918.90,448.62 919.10,448.88 919.30,449.09 919.50,449.25 919.60,449.30 919.70,449.35 919.90,449.44 920.10,449.52 920.30,449.58 920.50,449.64 920.70,449.68 920.90,449.70 921.00,449.70 921.10,449.70 921.30,449.66 921.50,449.59 921.70,449.50 921.90,449.37 922.10,449.23 922.30,449.07 922.50,448.89 922.70,448.70 922.80,448.60 922.90,448.49 923.10,448.18 923.30,447.78 923.50,447.32 923.70,446.81 923.90,446.27 924.00,446.00 924.10,445.70 924.30,445.00 924.50,444.23 924.70,443.47 924.90,442.80 924.90,442.80 925.10,442.25 925.30,441.75 925.50,441.28 925.70,440.83 925.90,440.36 926.10,439.87 926.20,439.60 926.30,439.30 926.50,438.57 926.70,437.76 926.90,436.96 927.10,436.27 927.30,435.78 927.50,435.60 927.50,435.60 927.70,435.84 927.90,436.47 928.10,437.34 928.30,438.30 928.50,439.21 928.60,439.60 928.70,439.94 928.90,440.56 929.10,441.17 929.30,441.89 929.50,442.80 929.50,442.80 929.70,444.59 929.90,447.17 930.10,449.49 930.30,450.50 930.30,450.50 930.50,450.50 930.70,450.48 930.90,450.44 931.10,450.35 931.30,450.21 931.50,449.99 931.70,449.70 931.90,449.30 931.90,449.30"/>
<line x1="825.9" y1="129.8" x2="887.1" y2="129.8" stroke="#e27c1f" stroke-width="2.5"/>
<rect x="183.3" y="4.0" width="758.75" height="492.95" fill="none" stroke="#141414" stroke-width="1.95"/>
<g stroke="#141414" stroke-width="1.7">
<line x1="183.3" y1="496.95" x2="183.3" y2="504.6"/>
<line x1="326.8" y1="496.95" x2="326.8" y2="504.6"/>
<line x1="469.85" y1="496.95" x2="469.85" y2="504.6"/>
<line x1="612.9" y1="496.95" x2="612.9" y2="504.6"/>
<line x1="756.0" y1="496.95" x2="756.0" y2="504.6"/>
<line x1="899.1" y1="496.95" x2="899.1" y2="504.6"/>
<line x1="183.3" y1="451.5" x2="175.2" y2="451.5"/>
<line x1="183.3" y1="311.55" x2="175.2" y2="311.55"/>
<line x1="183.3" y1="171.65" x2="175.2" y2="171.65"/>
<line x1="183.3" y1="31.7" x2="175.2" y2="31.7"/>
</g>
<g font-family="'DejaVu Serif','Liberation Serif',serif" font-size="31.8" fill="#000">
<text x="183.3" y="537.3" text-anchor="middle">0</text>
<text x="326.8" y="537.3" text-anchor="middle">10</text>
<text x="469.9" y="537.3" text-anchor="middle">20</text>
<text x="612.9" y="537.3" text-anchor="middle">30</text>
<text x="756.0" y="537.3" text-anchor="middle">40</text>
<text x="899.1" y="537.3" text-anchor="middle">50</text>
<text x="168.1" y="464.0" text-anchor="end">0</text>
<text x="168.1" y="324.1" text-anchor="end">10000</text>
<text x="168.1" y="184.2" text-anchor="end">20000</text>
<text x="168.1" y="44.2" text-anchor="end">30000</text>
</g>
<text font-family="'DejaVu Serif','Liberation Serif',serif" font-size="32.6" x="339.5" y="603.6">Mass to charge ratio <tspan font-family="'DejaVu Sans','Liberation Sans',sans-serif">/(<tspan font-style="italic">m</tspan>/<tspan font-style="italic">z</tspan>)</tspan></text>
<text font-family="'DejaVu Serif','Liberation Serif',serif" font-size="32.6" transform="translate(27.7 310.2) rotate(-90)">Counts</text>
<text font-family="'DejaVu Serif','Liberation Serif',serif" font-size="27.7" x="827.1" y="101.5">x0.05</text>
<text font-family="'DejaVu Sans','Liberation Sans',sans-serif" fill="#000"><tspan font-size="27.0" x="190.8" y="170.0">H</tspan><tspan font-size="18.90" x="214.9" y="160.1">+</tspan></text>
<text font-family="'DejaVu Sans','Liberation Sans',sans-serif" fill="#000"><tspan font-size="27.0" x="344.2" y="73.4">C</tspan><tspan font-size="18.90" x="366.8" y="62.7">+</tspan></text>
<text font-family="'DejaVu Sans','Liberation Sans',sans-serif" fill="#000"><tspan font-size="27.0" x="419.6" y="352.9">H</tspan><tspan font-size="18.90" x="440.8" y="358.0">2</tspan><tspan font-size="27.0" x="453.0" y="352.9">O</tspan><tspan font-size="18.90" x="478.6" y="343.0">+</tspan></text>
<text font-family="'DejaVu Sans','Liberation Sans',sans-serif" fill="#000"><tspan font-size="27.0" x="492.7" y="115.3">C</tspan><tspan font-size="18.90" x="511.6" y="122.9">2</tspan><tspan font-size="18.90" x="515.6" y="104.7">+</tspan></text>
<text font-family="'DejaVu Sans','Liberation Sans',sans-serif" fill="#000"><tspan font-size="27.0" x="542.8" y="171.1">H</tspan><tspan font-size="27.0" x="562.9" y="171.1">C</tspan><tspan font-size="18.90" x="581.8" y="175.6">3</tspan><tspan font-size="27.0" x="595.4" y="171.1">N</tspan><tspan font-size="18.90" x="615.3" y="161.2">2</tspan><tspan font-size="18.90" x="631.8" y="161.2">+</tspan></text>
<text font-family="'DejaVu Sans','Liberation Sans',sans-serif" fill="#000"><tspan font-size="27.0" x="563.1" y="283.2">N</tspan><tspan font-size="18.90" x="583.1" y="290.7">2</tspan><tspan font-size="18.90" x="587.0" y="273.0">+</tspan><tspan font-size="27.0" x="607.8" y="283.2">/</tspan><tspan font-size="27.0" x="616.6" y="283.2">C</tspan><tspan font-size="27.0" x="635.9" y="283.2">O</tspan><tspan font-size="18.90" x="661.0" y="273.0">+</tspan></text>
<text font-family="'DejaVu Sans','Liberation Sans',sans-serif" fill="#000"><tspan font-size="27.0" x="670.1" y="311.0">C</tspan><tspan font-size="18.90" x="688.9" y="318.7">3</tspan><tspan font-size="18.90" x="693.0" y="300.9">+</tspan></text>
<text font-family="'DejaVu Sans','Liberation Sans',sans-serif" fill="#000"><tspan font-size="27.0" x="627.3" y="394.9">O</tspan><tspan font-size="18.90" x="648.9" y="402.6">2</tspan><tspan font-size="18.90" x="652.9" y="385.7">+</tspan></text>
<text font-family="'DejaVu Sans','Liberation Sans',sans-serif" fill="#000"><tspan font-size="27.0" x="813.2" y="45.5">H</tspan><tspan font-size="27.0" x="833.6" y="45.5">C</tspan><tspan font-size="18.90" x="852.9" y="50.0">3</tspan><tspan font-size="27.0" x="866.0" y="45.5">N</tspan><tspan font-size="18.90" x="890.1" y="35.6">+</tspan></text>
</svg>
</body>
</html>
